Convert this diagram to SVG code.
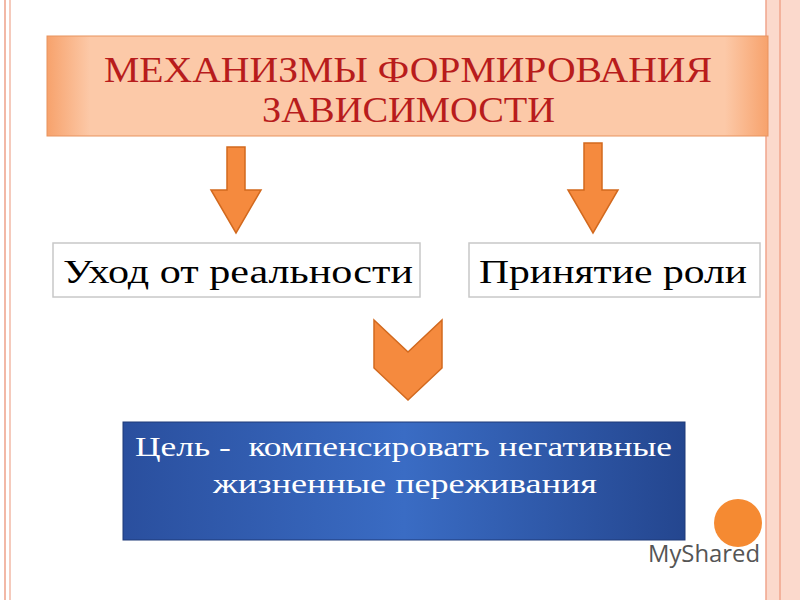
<svg xmlns="http://www.w3.org/2000/svg" width="800" height="600" viewBox="0 0 800 600">
<defs>
<linearGradient id="og" x1="0" x2="1" y1="0" y2="0">
<stop offset="0" stop-color="#f7a26c"/><stop offset="0.06" stop-color="#fcc9a8"/><stop offset="0.94" stop-color="#fcc9a8"/><stop offset="1" stop-color="#f7a26c"/>
</linearGradient>
<linearGradient id="bg" x1="0" x2="1" y1="0" y2="0">
<stop offset="0" stop-color="#2a4f9e"/><stop offset="0.5" stop-color="#3a6cc4"/><stop offset="1" stop-color="#24468f"/>
</linearGradient>
<style>
.ar{fill:#f58a3e;stroke:#d2691e;stroke-width:1.5}
.bx{fill:#fff;stroke:#c8c8c8;stroke-width:1.5}
.t{font-family:"Liberation Serif",serif}
</style>
</defs>
<rect width="800" height="600" fill="#fff"/>
<line x1="5" y1="0" x2="5" y2="600" stroke="#f2b8a6" stroke-width="2"/>
<line x1="10" y1="0" x2="10" y2="600" stroke="#f2b8a6" stroke-width="1.5"/>
<rect x="766" y="0" width="34" height="600" fill="#fbd9cc"/>
<line x1="766" y1="0" x2="766" y2="600" stroke="#f0a48c" stroke-width="1.5"/>
<line x1="780" y1="0" x2="780" y2="600" stroke="#f0a48c" stroke-width="1.5"/>
<g id="title">
<rect x="47" y="36" width="721" height="100" fill="url(#og)" stroke="#e8935e" stroke-width="1"/>
<text class="t" x="104" y="82" font-size="36" fill="#b81c1c" textLength="608" lengthAdjust="spacingAndGlyphs">МЕХАНИЗМЫ ФОРМИРОВАНИЯ</text>
<text class="t" x="262" y="122" font-size="36" fill="#b81c1c" textLength="293" lengthAdjust="spacingAndGlyphs">ЗАВИСИМОСТИ</text>
</g>
<g id="connectors">
<polygon class="ar" points="227,147 245,147 245,190 261,190 236,233 211,190 227,190"/>
<polygon class="ar" points="584,143 602,143 602,190 618,190 593,233 568,190 584,190"/>
<polygon class="ar" points="374,320 408,352 442,320 442,368 408,400 374,368"/>
</g>
<g id="n1">
<rect class="bx" x="53" y="243" width="367" height="54"/>
<text class="t" x="63" y="283" font-size="33" textLength="350" lengthAdjust="spacingAndGlyphs">Уход от реальности</text>
</g>
<g id="n2">
<rect class="bx" x="469" y="243" width="291" height="54"/>
<text class="t" x="479" y="283" font-size="33" textLength="268" lengthAdjust="spacingAndGlyphs">Принятие роли</text>
</g>
<g id="goal">
<rect x="123" y="422" width="562" height="118" fill="url(#bg)" stroke="#1e3a78"/>
<text class="t" x="135" y="456" font-size="28" fill="#fff" textLength="537" lengthAdjust="spacingAndGlyphs" xml:space="preserve">Цель -  компенсировать негативные</text>
<text class="t" x="213" y="493" font-size="28" fill="#fff" textLength="384" lengthAdjust="spacingAndGlyphs">жизненные переживания</text>
</g>
<circle cx="738" cy="523" r="24" fill="#f58a32"/>
<text x="648" y="562" font-family="Open Sans,sans-serif" font-size="24" fill="#555" textLength="112" lengthAdjust="spacingAndGlyphs">MyShared</text>
</svg>
